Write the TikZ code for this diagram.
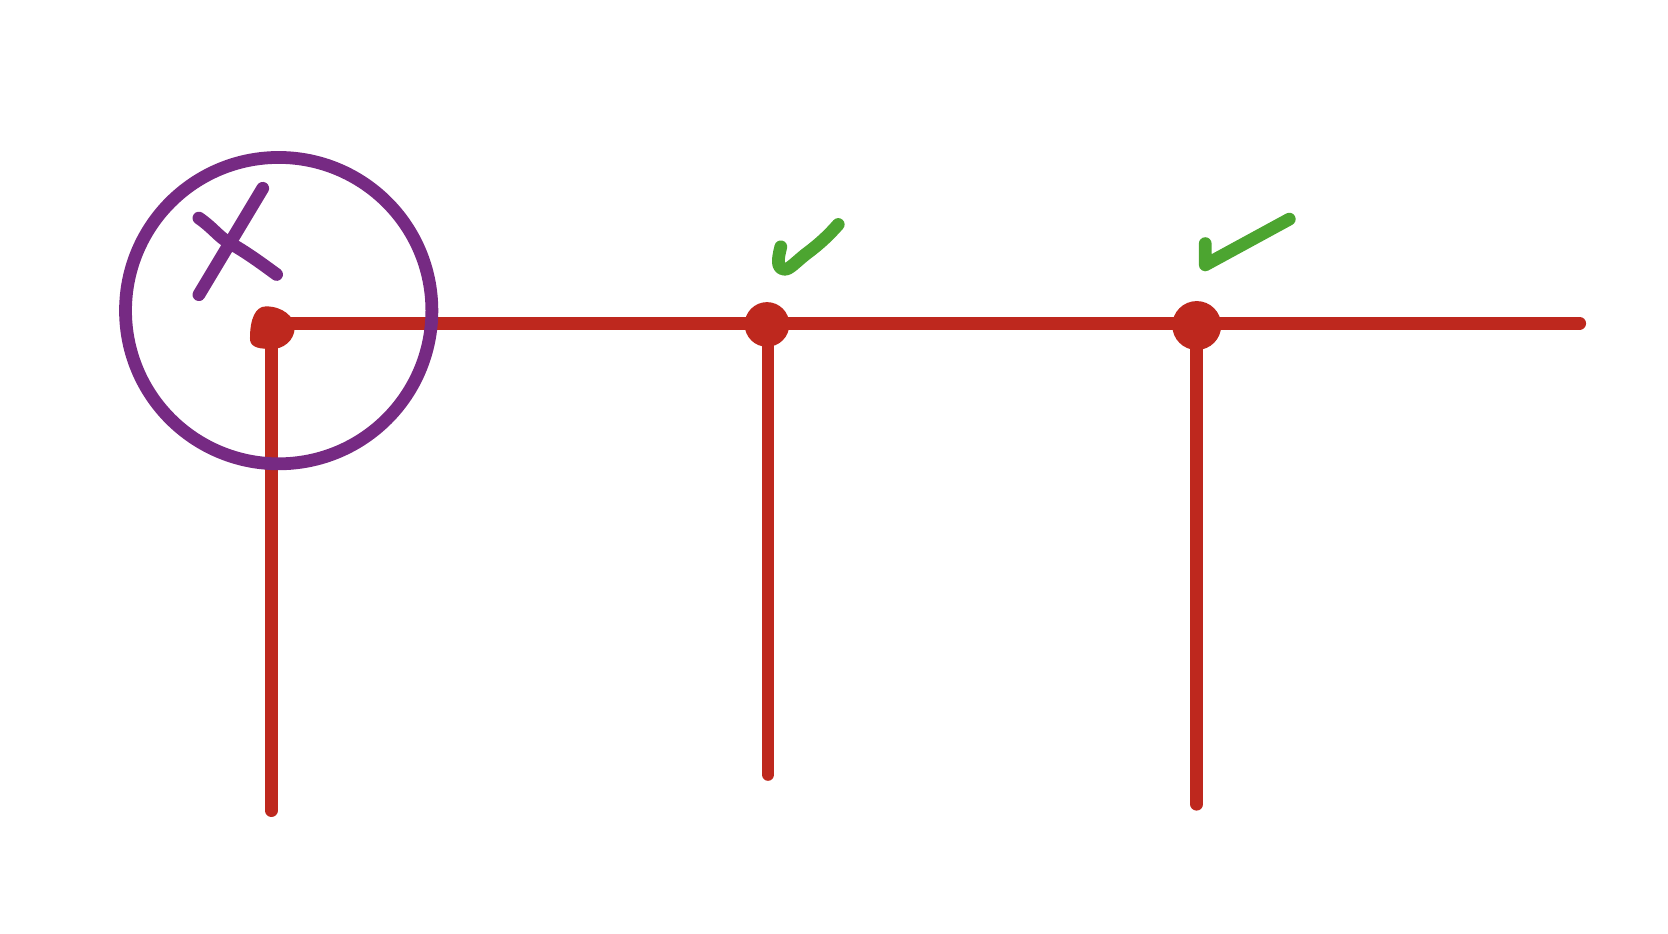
\documentclass[tikz,border=0pt]{standalone}
\usepackage{tikz}
\usetikzlibrary{calc,positioning}

\definecolor{wirered}{RGB}{190,40,30}
\definecolor{markpurple}{RGB}{118,42,131}
\definecolor{tickgreen}{RGB}{76,165,48}

\tikzset{
wire/.style={wirered,line width=0.12cm,line cap=round},
penstroke/.style={line width=0.12cm,line cap=round,line join=round},
joint/.style={fill=wirered,draw=none}
}

\begin{document}
\begin{tikzpicture}[x=0.01cm,y=-0.01cm]
\useasboundingbox (0,0) rectangle (1568,878);
\coordinate (j1) at (255,304);
\coordinate (j2) at (722,304);
\coordinate (j3) at (1125,304);
\coordinate (e0) at (1485,304);
\coordinate (b1) at (255,762);
\coordinate (b2) at (722,728);
\coordinate (b3) at (1125,756);

% wires
\draw[wire] (j1) -- (e0);
\draw[wire] (j1) -- (b1);
\draw[wire] (j2) -- (b2);
\draw[wire] (j3) -- (b3);

% joints
\fill[joint] (235,318) .. controls (235,300) and (240,288) .. (250,288)
.. controls (266,288) and (277,298) .. (277,308) .. controls (277,320) and (266,329) .. (254,328)
.. controls (240,328) and (235,325) .. (235,318) -- cycle;
\fill[joint] (721,305) circle (21);
\fill[joint] (1125,306) circle (23);

% crossed out joint
\draw[markpurple,line width=0.12cm] (262,292) circle (144);
\draw[markpurple,penstroke] (247,177) -- (187,277);
\draw[markpurple,penstroke] (187,205) .. controls (200,214) and (205,222) .. (215,228)
.. controls (230,236) and (245,247) .. (260,258);

% ticks
\draw[tickgreen,penstroke] (734,232) .. controls (731,244) and (730,252) .. (737,253)
.. controls (742,254) and (748,246) .. (760,237) .. controls (772,228) and (780,220) .. (788,211);
\draw[tickgreen,penstroke] (1133,229) -- (1133,249) -- (1212,206);
\end{tikzpicture}
\end{document}
